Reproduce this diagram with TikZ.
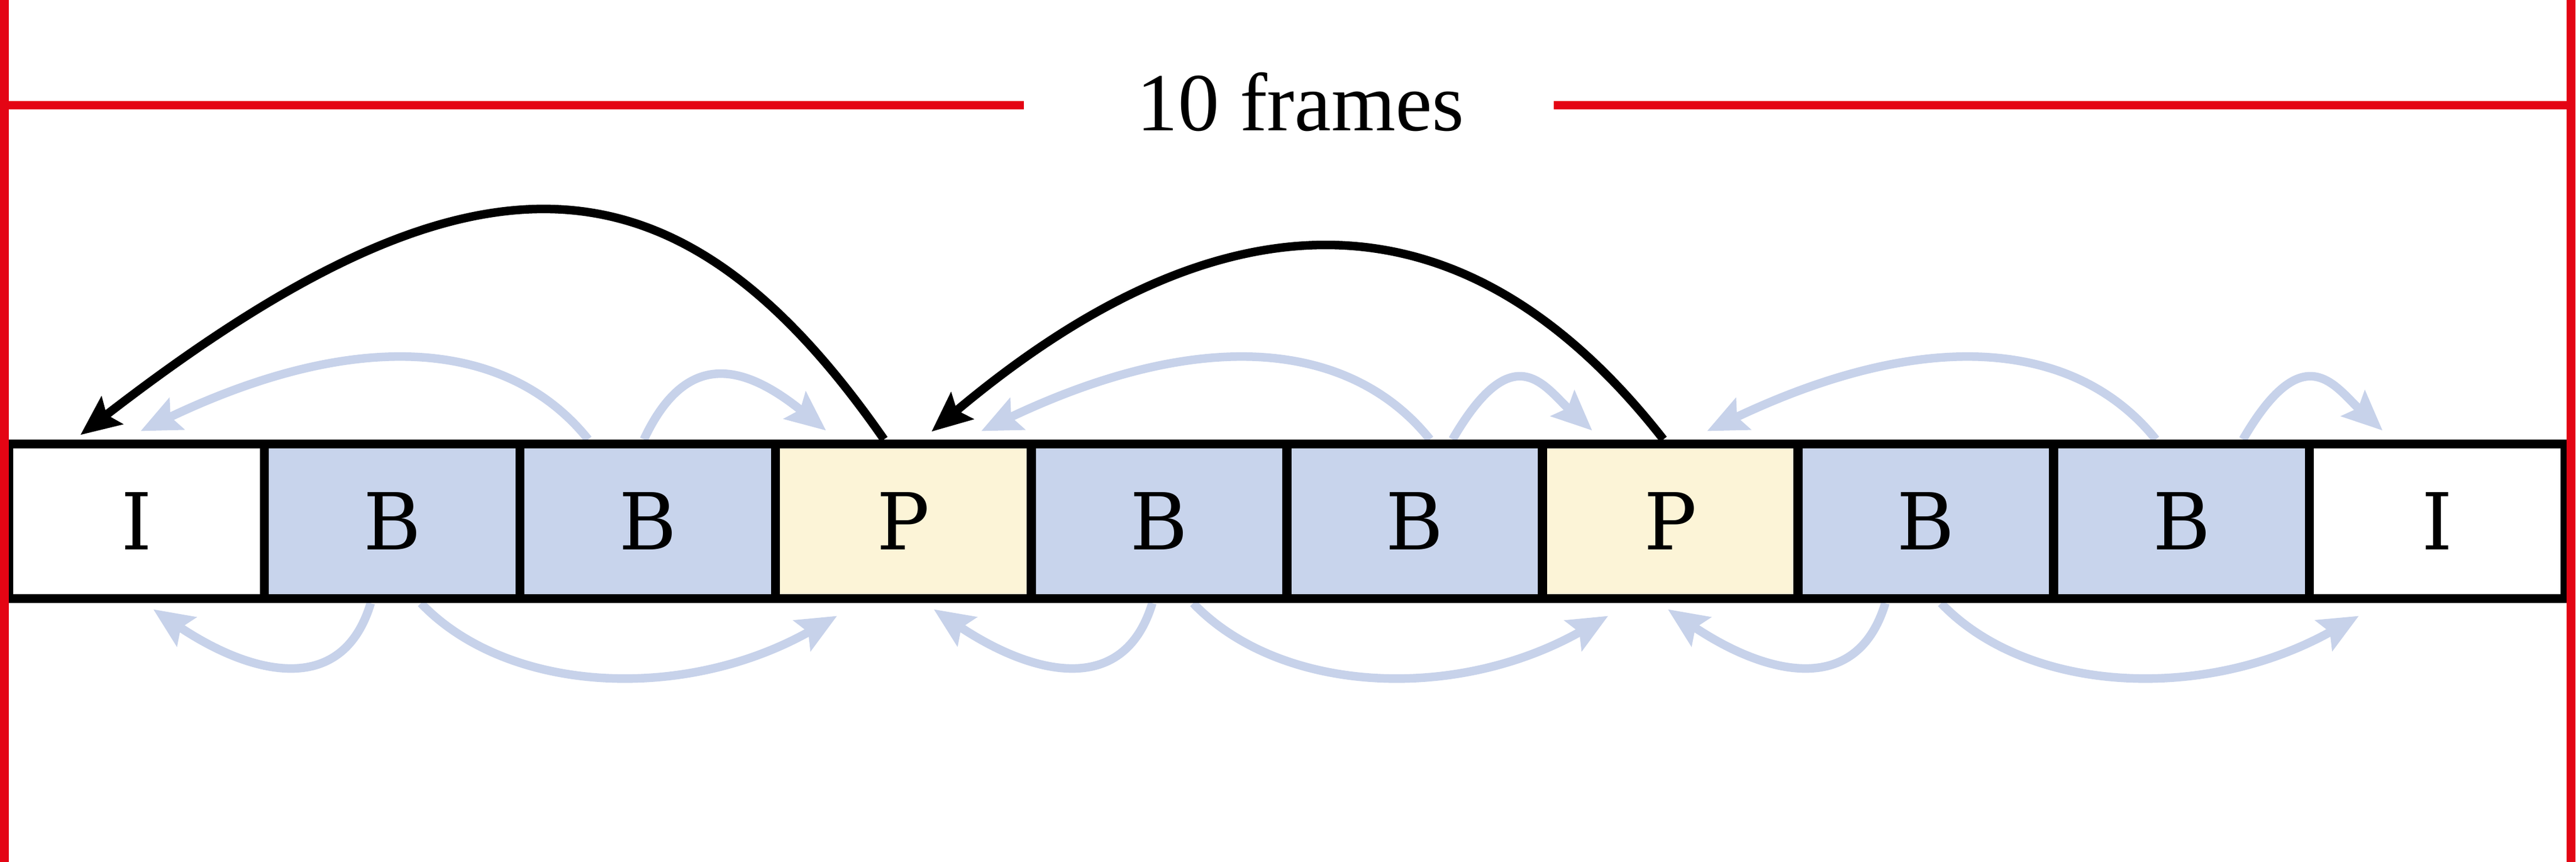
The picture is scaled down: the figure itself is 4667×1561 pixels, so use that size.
\documentclass[tikz,border=0pt]{standalone}
\usepackage{fontspec}
\setmainfont{Liberation Serif}
\newfontfamily\lettfont{DejaVu Serif}
\usetikzlibrary{arrows.meta,calc,backgrounds}
\definecolor{redline}{RGB}{228,5,20}
\definecolor{bfill}{RGB}{200,212,236}
\definecolor{pfill}{RGB}{252,244,215}
\definecolor{lightarr}{RGB}{199,210,234}
\begin{document}
\begin{tikzpicture}[x=0.01cm,y=-0.01cm,
  frame/.style={draw=black, line width=0.165cm, minimum width=4.631cm, minimum height=2.8cm, inner sep=0pt, font=\lettfont\fontsize{40.5}{41}\selectfont},
  iframe/.style={frame, fill=white},
  bframe/.style={frame, fill=bfill},
  pframe/.style={frame, fill=pfill},
  blackarr/.style={draw=black, line width=0.155cm, -{Stealth[length=0.72cm,width=0.62cm,inset=0.12cm]}},
  lightarrow/.style={draw=lightarr, line width=0.155cm, -{Stealth[length=0.72cm,width=0.62cm,inset=0.12cm]}},
  redln/.style={draw=redline, line width=0.16cm},
  titlestyle/.style={font=\fontsize{42.5}{43}\selectfont, anchor=base, inner sep=0pt}
]
\useasboundingbox (0,0) rectangle (4667,1561);

% frames
\node[iframe] (f1)  at (247.55,944)  {I};
\node[bframe] (f2)  at (710.65,944)  {B};
\node[bframe] (f3)  at (1173.75,944) {B};
\node[pframe] (f4)  at (1636.85,944) {P};
\node[bframe] (f5)  at (2099.95,944) {B};
\node[bframe] (f6)  at (2563.05,944) {B};
\node[pframe] (f7)  at (3026.15,944) {P};
\node[bframe] (f8)  at (3489.25,944) {B};
\node[bframe] (f9)  at (3952.35,944) {B};
\node[iframe] (f10) at (4415.45,944) {I};

% title
\node[titlestyle] (title) at (2356,237) {10 frames};

\begin{pgfonlayer}{background}
% black arrows
\draw[blackarr] ($(f4.north west)+(204.7,0)$) .. controls (1220,247) and (846,246) .. ($(f1.north west)+(138,-8)$);
\draw[blackarr] ($(f7.north west)+(227.4,0)$) .. controls (2640,318) and (2200,351) .. ($(f4.north west)+(290.7,-14)$);
% light top long
\draw[lightarrow] ($(f3.north west)+(131.8,0)$) .. controls (933,630) and (676,580) .. ($(f1.north west)+(247,-15)$);
\draw[lightarrow] ($(f6.north west)+(267.5,0)$) .. controls (2458,630) and (2201,580) .. ($(f4.north west)+(380.7,-15)$);
\draw[lightarrow] ($(f9.north west)+(193.2,0)$) .. controls (3773,630) and (3516,580) .. ($(f7.north west)+(306.4,-15)$);
% light top short
\draw[lightarrow] ($(f3.north west)+(232.8,0)$) .. controls (1238,644) and (1335,649) .. ($(f4.north west)+(99.7,-16)$);
\draw[lightarrow] ($(f6.north west)+(308.5,0)$) .. controls (2742,606) and (2798,700) .. ($(f7.north west)+(98.4,-16)$);
\draw[lightarrow] ($(f9.north west)+(351.2,0)$) .. controls (4174,606) and (4230,700) .. ($(f10.north west)+(141.1,-16)$);
% light bottom short
\draw[lightarrow] ($(f2.south west)+(200.9,0)$) .. controls (619,1266) and (451,1220) .. ($(f1.south west)+(270,11)$);
\draw[lightarrow] ($(f5.south west)+(227.6,0)$) .. controls (2035,1266) and (1866,1220) .. ($(f4.south west)+(294.7,11)$);
\draw[lightarrow] ($(f8.south west)+(166.3,0)$) .. controls (3363,1266) and (3195,1220) .. ($(f7.south west)+(235.4,11)$);
% light bottom long
\draw[lightarrow] ($(f2.south west)+(291.9,0)$) .. controls (918,1255) and (1237,1273) .. ($(f4.south west)+(119.7,23)$);
\draw[lightarrow] ($(f5.south west)+(301.6,0)$) .. controls (2317,1255) and (2635,1273) .. ($(f7.south west)+(127.4,23)$);
\draw[lightarrow] ($(f8.south west)+(267.3,0)$) .. controls (3672,1255) and (3992,1273) .. ($(f10.south west)+(98.1,23)$);
\end{pgfonlayer}

% red dimension lines
\coordinate (vlt) at (8,0);
\coordinate (vlb) at (8,1561);
\coordinate (vrt) at (4658,0);
\coordinate (vrb) at (4658,1561);
\coordinate (hl) at (8,191);
\coordinate (gapl) at (1855,191);
\coordinate (gapr) at (2815,191);
\coordinate (hr) at (4658,191);
\draw[redln] (vlt) -- (vlb);
\draw[redln] (vrt) -- (vrb);
\draw[redline, line width=0.15cm] (hl) -- (gapl);
\draw[redline, line width=0.15cm] (gapr) -- (hr);
\end{tikzpicture}
\end{document}
